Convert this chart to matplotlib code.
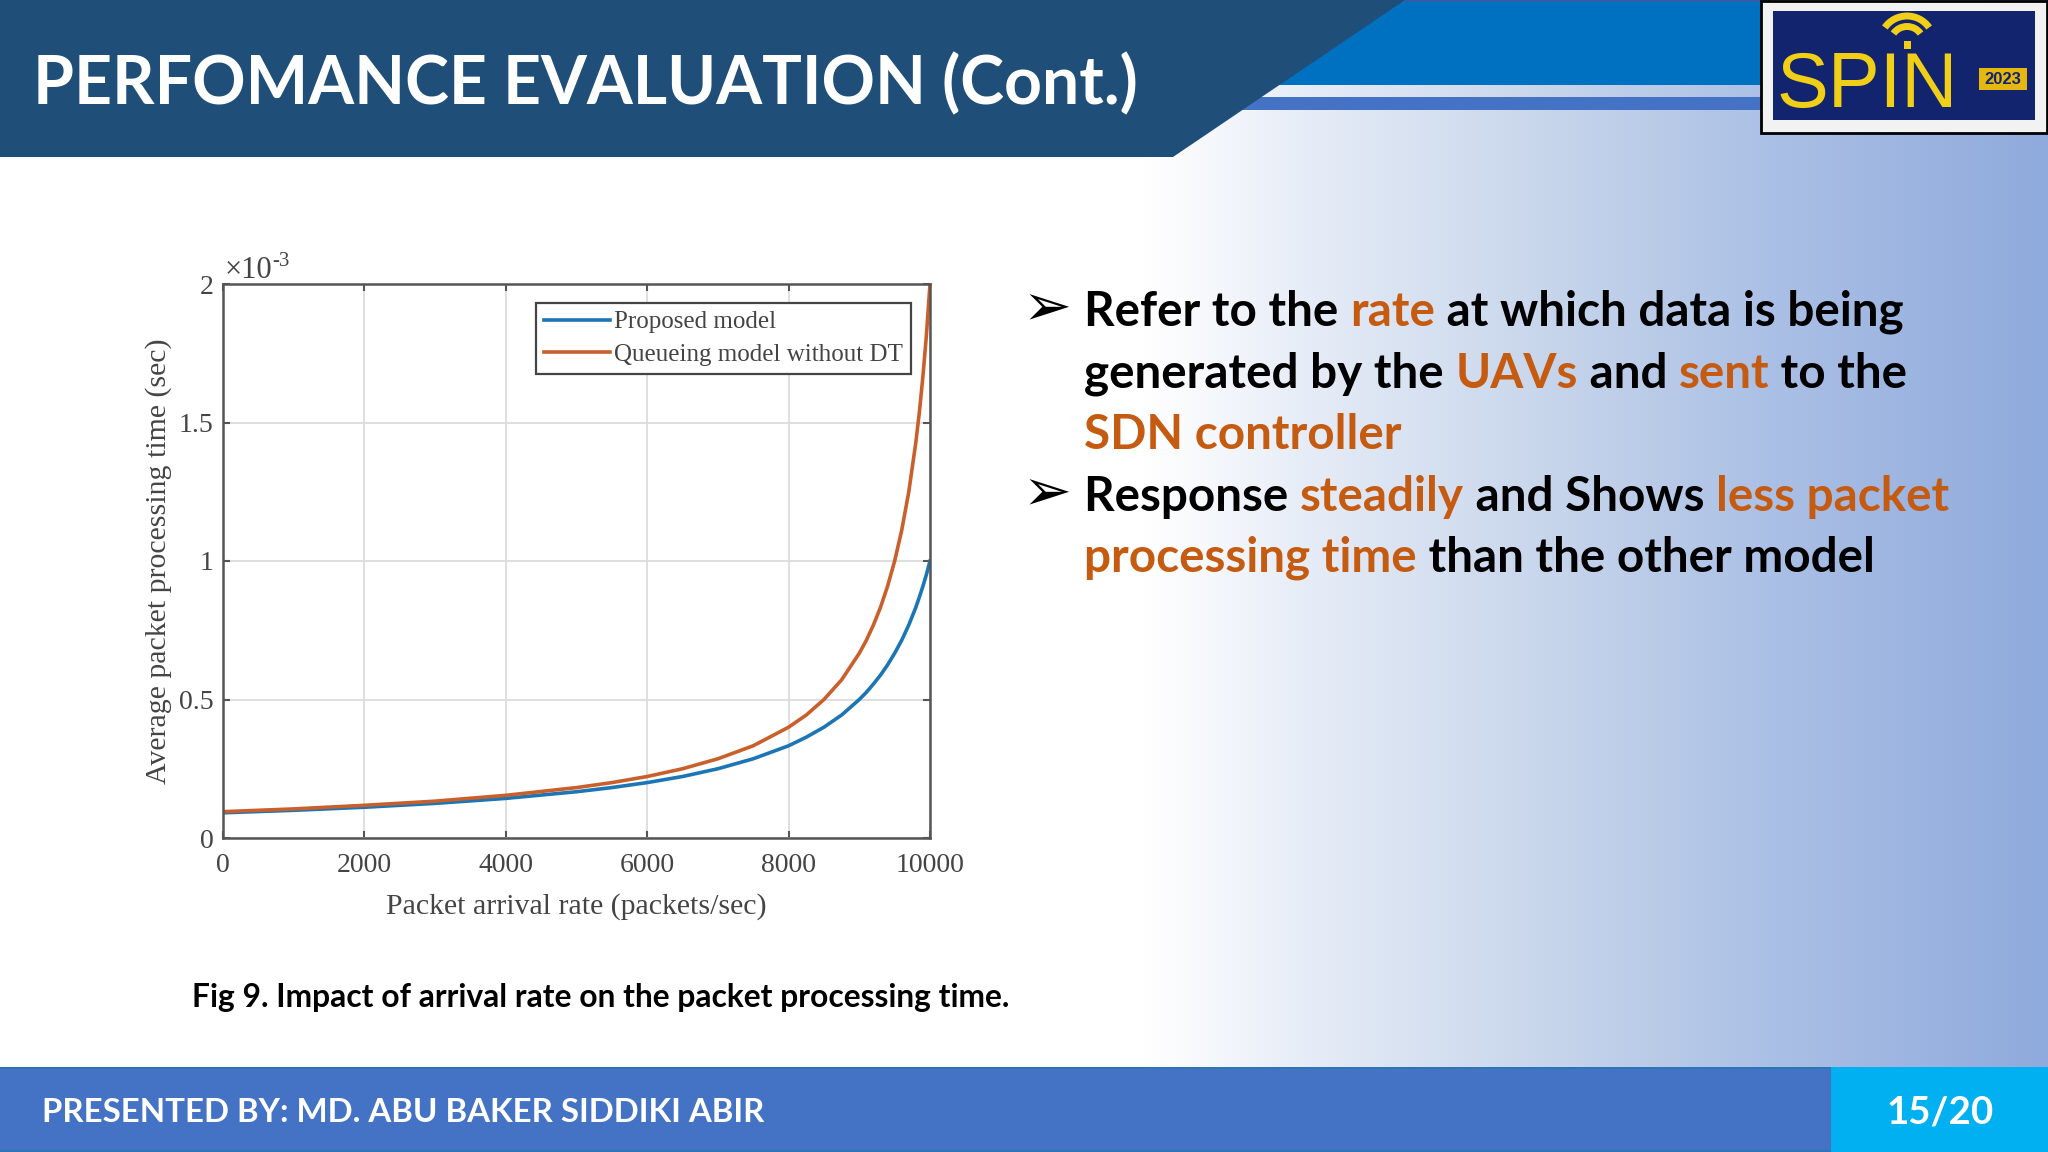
import numpy as np
import matplotlib
matplotlib.use('Agg')
import matplotlib.pyplot as plt
from matplotlib.colors import LinearSegmentedColormap
from matplotlib.patches import Polygon, Rectangle, Arc

arrival_rate = [0, 1000, 2000, 3000, 4000, 5000, 5500, 6000, 6500, 7000, 7500, 8000, 8250, 8500, 8750, 9000, 9100, 9200, 9300, 9400, 9500, 9600, 9700, 9800, 9850, 9900, 9950, 10000]
proposed_model = [0.091, 0.10, 0.111, 0.125, 0.143, 0.167, 0.182, 0.20, 0.222, 0.25, 0.286, 0.333, 0.364, 0.40, 0.444, 0.50, 0.526, 0.556, 0.588, 0.625, 0.667, 0.714, 0.769, 0.833, 0.87, 0.909, 0.952, 1.0]
queue_model = [0.095, 0.105, 0.118, 0.133, 0.154, 0.182, 0.20, 0.222, 0.25, 0.286, 0.333, 0.40, 0.444, 0.50, 0.571, 0.667, 0.714, 0.769, 0.833, 0.909, 1.0, 1.111, 1.25, 1.429, 1.538, 1.667, 1.818, 2.0]
x_ticks = [0, 2000, 4000, 6000, 8000, 10000]
y_ticks = [0, 0.5, 1, 1.5, 2]
y_tick_labels = ['0', '0.5', '1', '1.5', '2']

W, H = 2048, 1152
fig = plt.figure(figsize=(20.48, 11.52), dpi=100)

# slide background, drawn in pixel coordinates
bg = fig.add_axes([0, 0, 1, 1])
bg.axis('off')

cmap = LinearSegmentedColormap.from_list('slide', [(0, '#ffffff'), (0.56, '#ffffff'), (0.64, '#e6ecf7'), (0.75, '#c9d7ec'), (0.87, '#aabfe5'), (1, '#8faadc')])
grad = np.linspace(0, 1, 1024).reshape(1, -1)
bg.imshow(grad, extent=[0, W, H, 0], cmap=cmap, aspect='auto', zorder=0)
bg.set_xlim(0, W)
bg.set_ylim(H, 0)

bg.add_patch(Rectangle((1170, 0), 600, 85, color='#0070c0', lw=0, zorder=1))
bg.add_patch(Rectangle((1170, 0), 600, 2, color='#2f5fa8', lw=0, zorder=1))
bg.add_patch(Rectangle((1170, 97), 600, 13, color='#4472c4', lw=0, zorder=1))
bg.add_patch(Polygon([(0, 0), (1405, 0), (1173, 157), (0, 157)], color='#1f4e79', lw=0, zorder=2))

# logo
bg.add_patch(Rectangle((1761, 1), 286, 132, fc='#f2f2f2', ec='black', lw=2, zorder=3))
bg.add_patch(Rectangle((1773, 11), 262, 109, color='#12246e', lw=0, zorder=4))
bg.add_patch(Rectangle((1979, 68), 48, 22, color='#e6b80f', lw=0, zorder=5))
bg.text(2003, 79.5, '2023', color='#12246e', fontsize=12, fontweight='bold', family='Liberation Sans', ha='center', va='center', zorder=6)
bg.text(1777, 86, 'SPIN', color='#f0cf16', fontsize=56, family='Liberation Sans', ha='left', va='center', zorder=5)
for size in [33, 54]:
    bg.add_patch(Arc((1907, 43), size, size, theta1=215, theta2=325, color='#f0cf16', lw=5, zorder=5))
bg.add_patch(Rectangle((1904, 41), 7, 8, color='#f0cf16', lw=0, zorder=5))

# footer
bg.add_patch(Rectangle((0, 1067), 1831, 85, color='#4472c4', lw=0, zorder=1))
bg.add_patch(Rectangle((0, 1067), 1831, 2, color='#2e75b6', lw=0, zorder=2))
bg.add_patch(Rectangle((0, 1150), 1831, 2, color='#2e75b6', lw=0, zorder=2))
bg.add_patch(Rectangle((1831, 1067), 217, 85, color='#00b0f0', lw=0, zorder=3))

FONT = 'Lato'
bg.text(33, 85, 'PERFOMANCE EVALUATION (Cont.)', color='white', fontsize=47.6, fontweight='bold', family=FONT, va='center', zorder=5)
bg.text(42, 1113, 'PRESENTED BY: MD. ABU BAKER SIDDIKI ABIR', color='white', fontsize=23.8, fontweight='bold', family=FONT, va='center', zorder=5)
bg.text(1940, 1113, '15/20', color='white', fontsize=27.7, fontweight='bold', family=FONT, ha='center', va='center', zorder=5)
bg.text(192, 998, 'Fig 9. Impact of arrival rate on the packet processing time.', color='black', fontsize=22.85, fontweight='bold', family=FONT, va='center', zorder=5)

# bullet text, coloured word by word
ORANGE = '#c55a11'
lines = [
    (326, [('Refer to the ', 'black'), ('rate', ORANGE), (' at which data is being', 'black')]),
    (388, [('generated by the ', 'black'), ('UAVs', ORANGE), (' and ', 'black'), ('sent', ORANGE), (' to the', 'black')]),
    (449, [('SDN controller', ORANGE)]),
    (511, [('Response ', 'black'), ('steadily', ORANGE), (' and Shows ', 'black'), ('less packet', ORANGE)]),
    (572, [('processing time', ORANGE), (' than the other model', 'black')]),
]
renderer = fig.canvas.get_renderer()
for base, parts in lines:
    x = 1084
    for word, col in parts:
        t = bg.text(x, base, word, color=col, fontsize=34.3, fontweight='bold', family=FONT, va='baseline', zorder=5)
        # spaces at the ends are not measured by the text box, so measure with markers
        w = bg.text(0, 0, '|' + word + '|', fontsize=34.3, fontweight='bold', family=FONT)
        w2 = bg.text(0, 0, '||', fontsize=34.3, fontweight='bold', family=FONT)
        x += w.get_window_extent(renderer).width - w2.get_window_extent(renderer).width
        w.remove()
        w2.remove()
for y in [309, 494]:
    bg.text(1047, y, '\u27a2', color='black', fontsize=42, family='DejaVu Sans', ha='center', va='center', zorder=5)

# the chart itself
ax = fig.add_axes([223 / W, 1 - 838 / H, (930 - 223) / W, (838 - 284) / H])
ax.plot(arrival_rate, proposed_model, color='#1c75b4', lw=2.6, label='Proposed model')
ax.plot(arrival_rate, queue_model, color='#c9602c', lw=2.6, label='Queueing model without DT')
ax.set_xlim(0, 10000)
ax.set_ylim(0, 2)
ax.set_xticks(x_ticks)
ax.set_yticks(y_ticks)
ax.set_yticklabels(y_tick_labels)
ax.grid(True, color='#dcdcdc', lw=1.3)
ax.tick_params(direction='in', length=5, width=1.5, color='#555555', labelcolor='#444444', labelsize=20, top=True, right=True)
ax.tick_params(axis='x', pad=10.5)
ax.tick_params(axis='y', pad=7)
for label in ax.get_xticklabels() + ax.get_yticklabels():
    label.set_family('Liberation Serif')
for spine in ax.spines.values():
    spine.set_color('#555555')
    spine.set_linewidth(1.8)
ax.set_xlabel('Packet arrival rate (packets/sec)', fontsize=21.5, family='Liberation Serif', color='#444444', labelpad=11)
ax.set_ylabel('Average packet processing time (sec)', fontsize=21.5, family='Liberation Serif', color='#444444', labelpad=4.5)
leg = ax.legend(loc='upper right', bbox_to_anchor=(0.973, 0.966), fancybox=False, framealpha=1, edgecolor='#444444',
                prop={'family': 'Liberation Serif', 'size': 18}, labelcolor='#444444', handlelength=2.66, handletextpad=0.15,
                borderpad=0.32, labelspacing=0.4, borderaxespad=0)
leg.get_frame().set_linewidth(1.6)

bg.text(225, 270, '\u00d710', fontsize=22, family='Liberation Serif', color='#444444', va='center', zorder=5)
bg.text(272, 262, '-3', fontsize=15, family='Liberation Serif', color='#444444', va='center', zorder=5)

fig.savefig('out.png', dpi=100)
